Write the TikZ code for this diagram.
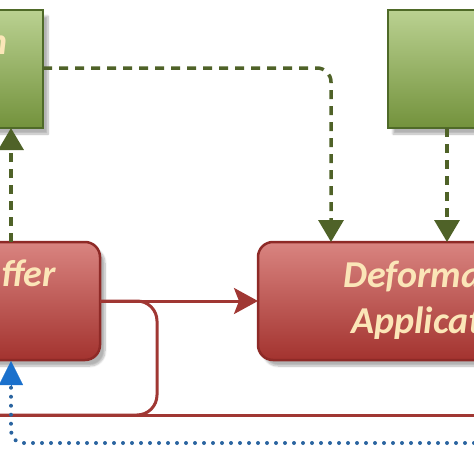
\documentclass[tikz,border=0pt]{standalone}
\usepackage{fontspec}
\setmainfont{Carlito}
\usetikzlibrary{arrows.meta,shadows,shadows.blur}
\definecolor{gborder}{HTML}{4F6A28}
\definecolor{gline}{HTML}{4F6228}
\definecolor{gtop}{HTML}{BAD191}
\definecolor{gbot}{HTML}{73923C}
\definecolor{rtop}{HTML}{D98480}
\definecolor{rbot}{HTML}{A3332F}
\definecolor{rborder}{HTML}{8E2A27}
\definecolor{rline}{HTML}{A03733}
\definecolor{cream}{HTML}{FBE6B8}
\definecolor{bdot}{HTML}{2A64A0}
\definecolor{barrow}{HTML}{1A70CC}
\tikzset{
  greenbox/.style={draw=gborder, line width=2.5pt, top color=gtop, bottom color=gbot, blur shadow={shadow blur steps=8, shadow xshift=5pt, shadow yshift=-6pt, shadow opacity=30}},
  redbox/.style={draw=rborder, line width=2.5pt, rounded corners=15pt, top color=rtop, bottom color=rbot, blur shadow={shadow blur steps=8, shadow xshift=5pt, shadow yshift=-6pt, shadow opacity=30}},
  gdash/.style={draw=gline, line width=3.5pt, dash pattern=on 9pt off 7pt},
  garrow/.style={-{Triangle[width=25pt,length=22pt]}, gline},
  rarrow/.style={-{Stealth[width=26pt,length=24pt,inset=5pt]}, rline, line width=3pt},
  rlink/.style={draw=rline, line width=3pt},
  bdots/.style={draw=bdot, line width=4pt, line cap=round, dash pattern=on 0pt off 9pt},
  lbl/.style={text=cream, font=\fontsize{38}{40}\selectfont\bfseries\itshape, inner sep=0pt},
}
\begin{document}
\begin{tikzpicture}[x=1pt,y=-1pt]
\useasboundingbox (0,0) rectangle (474,474);
% boxes
\path[greenbox] (-30,10) rectangle (43,128);
\path[greenbox] (388,10) rectangle (520,128);
\path[redbox] (-40,242) rectangle (100,360);
\path[redbox] (258,242) rectangle (540,360);
% named anchor coordinates
\coordinate (glr) at (43,68);
\coordinate (glb) at (11,128);
\coordinate (grb) at (447,128);
\coordinate (rlt) at (11,242);
\coordinate (rlb) at (11,361);
\coordinate (rlr) at (100,301);
\coordinate (rrl) at (258,301);
\coordinate (rrt1) at (331,242);
\coordinate (rrt2) at (447,242);
\coordinate (loopL) at (0,415);
\coordinate (loopR) at (474,415);
\coordinate (dotR) at (474,443);
% texts
\node[lbl, anchor=base east] (tg) at (8,54) {n};
\node[lbl, anchor=base east] (tb) at (56,286) {Buffer};
\node[lbl, anchor=base west] (td1) at (343,287) {Deformation};
\node[lbl, anchor=base west] (td2) at (351,333) {Application};
% green dashed connectors
\draw[gdash, garrow, rounded corners=14pt] (glr) -- (331,68) -- (rrt1);
\draw[gdash, garrow] (grb) -- (rrt2);
\draw[gdash, garrow] (rlt) -- (glb);
% red connectors
\draw[rarrow] (rlr) -- (rrl);
\draw[rlink, rounded corners=20pt] (rlr) -- (157,301) -- (157,415) -- (loopL);
\draw[rlink] (loopL) -- (loopR);
% blue dotted
\draw[bdots, rounded corners=12pt] (dotR) -- (11,443) -- (11,386);
\draw[barrow, -{Triangle[width=24pt,length=24pt]}, line width=0.1pt] (11,386) -- (rlb);
\end{tikzpicture}
\end{document}
